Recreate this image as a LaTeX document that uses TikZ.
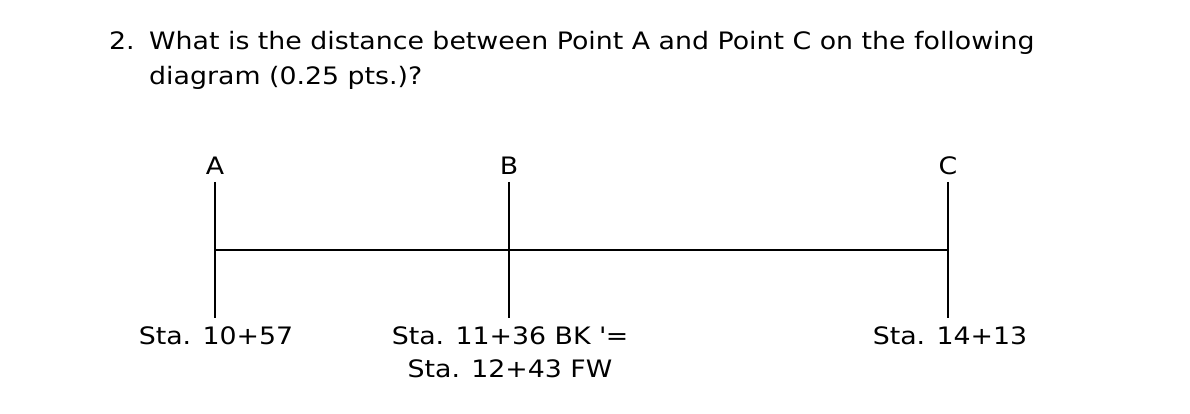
\documentclass[tikz,border=0pt]{standalone}
\usepackage{fontspec}
\setmainfont{DejaVu Sans}[FakeStretch=1.116]
\begin{document}
\begin{tikzpicture}[x=1pt,y=-1pt,
  txt/.style={inner sep=0pt, font=\fontsize{24}{35}\selectfont},
  tick/.style={line width=2.2pt, black},
  axis/.style={line width=2.2pt, black}]
\useasboundingbox[fill=white] (0,0) rectangle (1190,414);
% title
\node[txt, anchor=base west] (num) at (109,50) {2.};
\node[txt, anchor=base west] (q1) at (149,50) {What is the distance between Point A and Point C on the following};
\node[txt, anchor=base west] (q2) at (149,85) {diagram (0.25 pts.)?};
% point letters
\node[txt, anchor=base] (lA) at (215,175) {A};
\node[txt, anchor=base] (lB) at (509,175) {B};
\node[txt, anchor=base] (lC) at (948,175) {C};
% station labels
\node[txt, anchor=base] (sA) at (216,344) {Sta. 10+57};
\node[txt, anchor=base] (sB1) at (510,344) {Sta. 11+36 BK \textquotesingle=};
\node[txt, anchor=base] (sB2) at (510,377) {Sta. 12+43 FW};
\node[txt, anchor=base] (sC) at (950,344) {Sta. 14+13};
% coordinates
\coordinate (At) at (215,182); \coordinate (Ab) at (215,318); \coordinate (Am) at (215,250);
\coordinate (Bt) at (509,182); \coordinate (Bb) at (509,318);
\coordinate (Ct) at (948,182); \coordinate (Cb) at (948,318); \coordinate (Cm) at (948,250);
\draw[tick] (At) -- (Ab);
\draw[tick] (Bt) -- (Bb);
\draw[tick] (Ct) -- (Cb);
\draw[axis] (Am) -- (Cm);
\end{tikzpicture}
\end{document}
